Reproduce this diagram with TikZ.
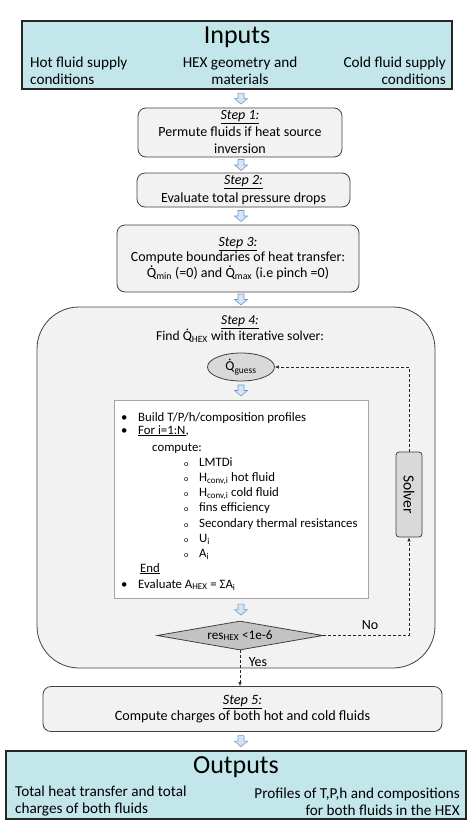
\documentclass[tikz,border=0pt]{standalone}
\usepackage{fontspec}
\setmainfont{Carlito}
\usetikzlibrary{shapes.geometric,arrows.meta,calc}
\definecolor{ioc}{HTML}{C3E6EA}
\definecolor{stepc}{HTML}{F2F2F2}
\definecolor{gguess}{HTML}{D9D9D9}
\definecolor{arrfill}{HTML}{D6E4F3}
\definecolor{arrdraw}{HTML}{6E9BCC}
\newcommand{\Qd}{\accent"02D9 Q}
\begin{document}
\begin{tikzpicture}[x=1pt,y=-1pt,
  io/.style={draw=black!85, line width=1.2pt, fill=ioc, inner sep=0pt},
  stepbox/.style={draw=black!75, line width=0.8pt, fill=stepc, rounded corners=8pt, inner sep=0pt, align=center, font=\fontsize{14}{17}\selectfont},
  bigbox/.style={draw=black!75, line width=0.8pt, fill=stepc, rounded corners=42pt, inner sep=0pt},
  iotxt/.style={inner sep=0pt, font=\fontsize{15.2}{17}\selectfont},
  title/.style={inner sep=0pt, font=\fontsize{26}{30}\selectfont},
  ltxt/.style={inner sep=0pt, anchor=base west, font=\fontsize{12.8}{15}\selectfont},
  dashline/.style={densely dashed, line width=0.6pt, black!85},
  tip/.style={-{Latex[length=4pt,width=3.5pt]}},
  darr/.pic={\draw[draw=arrdraw, fill=arrfill, line width=0.6pt] (-3,-5.5) -- (3,-5.5) -- (3,0) -- (6.5,0) -- (0,5.5) -- (-6.5,0) -- (-3,0) -- cycle;}
]
\useasboundingbox (0,0) rectangle (474,835);

% Inputs
\node[io, minimum width=430, minimum height=68] (inputs) at (237,55) {};
\node[title] (intitle) at (237,37) {Inputs};
\node[iotxt, anchor=west, align=left] (inhot) at (30,70.5) {Hot fluid supply\\conditions};
\node[iotxt, align=center] (inhex) at (240,70.5) {HEX geometry and\\materials};
\node[iotxt, anchor=east, align=right] (incold) at (446,70.5) {Cold fluid supply\\conditions};

% Steps
\node[stepbox, minimum width=204, minimum height=49] (s1) at (240,132.5)
  {\underline{\textit{Step 1:}}\\Permute fluids if heat source\\inversion};
\node[stepbox, minimum width=213, minimum height=34, font=\fontsize{14}{18}\selectfont] (s2) at (243.5,190)
  {\underline{\textit{Step 2:}}\\Evaluate total pressure drops};
\node[stepbox, minimum width=242, minimum height=67, font=\fontsize{14}{15.5}\selectfont] (s3) at (238,258.5)
  {\underline{\textit{Step 3:}}\\Compute boundaries of heat transfer:\\\Qd\textsubscript{min} (=0) and \Qd\textsubscript{max} (i.e pinch =0)};

% Step 4
\node[bigbox, minimum width=398, minimum height=361] (s4) at (236,487.5) {};
\node[inner sep=0pt, align=center, font=\fontsize{13.6}{16}\selectfont] (s4txt) at (240,329)
  {\underline{\textit{Step 4:}}\\Find \Qd\textsubscript{HEX} with iterative solver:};
\node[ellipse, draw=black!75, line width=0.8pt, fill=gguess, minimum width=67, minimum height=28, inner sep=0pt, font=\fontsize{13.5}{15}\selectfont] (guess) at (241,367) {\Qd\textsubscript{guess}};
\node[draw=black!35, line width=1pt, fill=white, minimum width=254, minimum height=198, inner sep=0pt] (inner) at (241,499) {};

\node[ltxt] (l1) at (121,421) {\makebox[17pt][l]{•}Build T/P/h/composition profiles};
\node[ltxt] (l2) at (121,434) {\makebox[17pt][l]{•}\underline{For i=1:N},};
\node[ltxt] (l3) at (152,451) {compute:};
\node[ltxt] (l4) at (184,466) {\makebox[15pt][l]{\fontsize{8}{8}\selectfont o}LMTDi};
\node[ltxt] (l5) at (184,481) {\makebox[15pt][l]{\fontsize{8}{8}\selectfont o}H\textsubscript{conv,i} hot fluid};
\node[ltxt] (l6) at (184,496) {\makebox[15pt][l]{\fontsize{8}{8}\selectfont o}H\textsubscript{conv,i} cold fluid};
\node[ltxt] (l7) at (184,511) {\makebox[15pt][l]{\fontsize{8}{8}\selectfont o}fins efficiency};
\node[ltxt] (l8) at (184,527) {\makebox[15pt][l]{\fontsize{8}{8}\selectfont o}Secondary thermal resistances};
\node[ltxt] (l9) at (184,542) {\makebox[15pt][l]{\fontsize{8}{8}\selectfont o}U\textsubscript{i}};
\node[ltxt] (l10) at (184,557) {\makebox[15pt][l]{\fontsize{8}{8}\selectfont o}A\textsubscript{i}};
\node[ltxt] (l11) at (140,572) {\underline{End}};
\node[ltxt] (l12) at (121,588) {\makebox[17pt][l]{•}Evaluate A\textsubscript{HEX} = ΣA\textsubscript{i}};

\node[diamond, draw=black!75, line width=0.8pt, fill=gguess!90!black, minimum width=166, minimum height=29, aspect=5.7, inner sep=0pt, font=\fontsize{13.2}{15}\selectfont] (diam) at (240,635.5) {res\textsubscript{HEX} <1e-6};

\node[draw=black!75, line width=0.8pt, fill=gguess, rounded corners=3pt, rotate=-90, minimum width=85, minimum height=26, inner sep=0pt, font=\fontsize{15.5}{17}\selectfont] (solver) at (409,494.5) {Solver};

\draw[dashline, tip] (diam.east) -| (solver.east);
\draw[dashline, tip] (solver.west) |- (guess.east);
\node[inner sep=0pt, font=\fontsize{14}{15}\selectfont] (no) at (370,625) {No};

% Step 5
\node[stepbox, minimum width=399, minimum height=45, font=\fontsize{14.2}{16}\selectfont] (s5) at (242.5,709)
  {\underline{\textit{Step 5:}}\\Compute charges of both hot and cold fluids};
\draw[dashline, tip] (diam.south) -- (diam.south |- s5.north);
\node[inner sep=0pt, font=\fontsize{14}{15}\selectfont] (yes) at (258,662) {Yes};

% Outputs
\node[io, minimum width=460, minimum height=68] (outputs) at (236,785) {};
\node[title] (outtitle) at (236,767) {Outputs};
\node[iotxt, anchor=west, align=left] (outl) at (15,801.5) {Total heat transfer and total\\charges of both fluids};
\node[iotxt, anchor=east, align=right] (outr) at (460,801.5) {Profiles of T,P,h and compositions\\for both fluids in the HEX};

% block arrows
\coordinate (m1) at ($(inputs.south)!0.5!(s1.north)$);
\coordinate (m2) at ($(s1.south)!0.5!(s2.north)$);
\coordinate (m3) at ($(s2.south)!0.5!(s3.north)$);
\coordinate (m4) at ($(s3.south)!0.5!(s4.north)$);
\coordinate (m5) at ($(guess.south)!0.5!(inner.north)$);
\coordinate (m6) at ($(inner.south)!0.5!(diam.north)$);
\coordinate (m7) at ($(s5.south)!0.5!(outputs.north)$);
\foreach \m in {m1,m2,m3,m4,m5,m6,m7} {\pic at (\m -| guess) {darr};}
\end{tikzpicture}
\end{document}
